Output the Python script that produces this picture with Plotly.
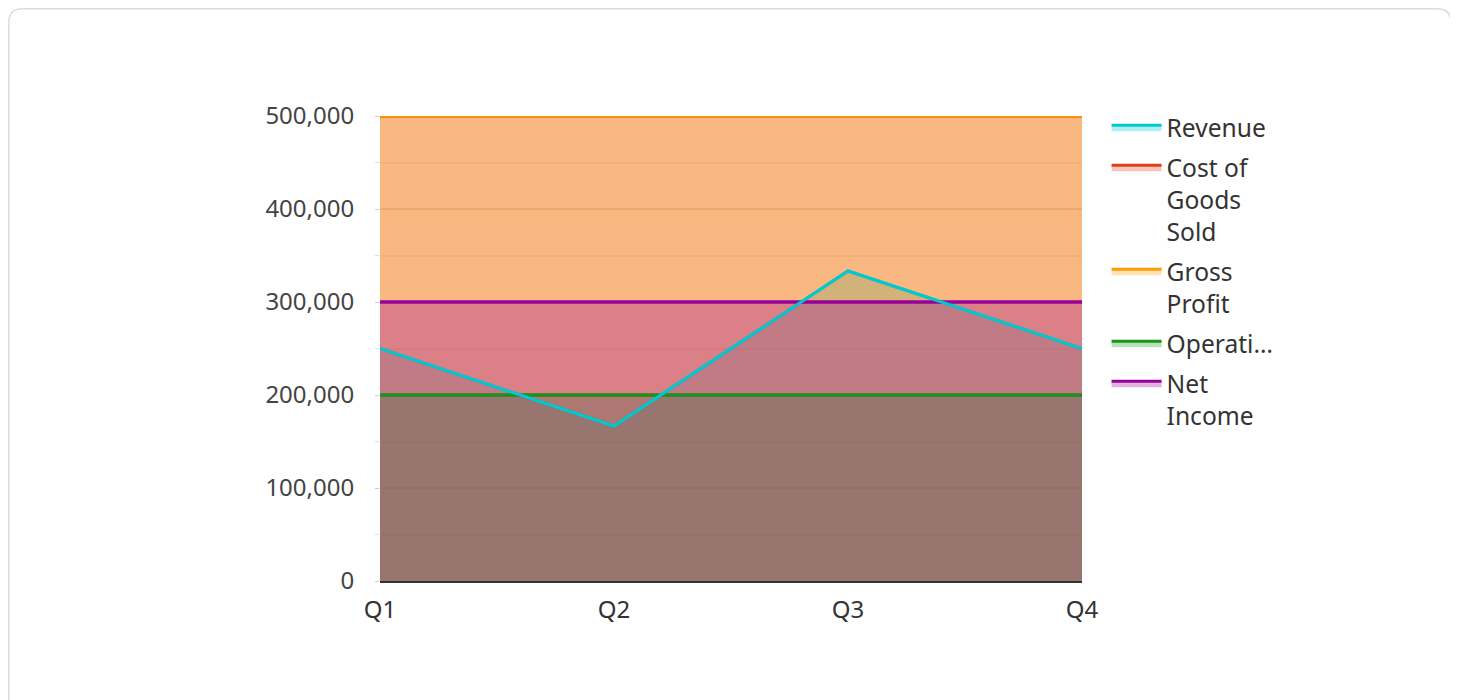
import plotly.graph_objects as go

quarters = ["Q1", "Q2", "Q3", "Q4"]
revenue = [250000, 166667, 333333, 250000]
cogs = [500000, 500000, 500000, 500000]
gross_profit = [500000, 500000, 500000, 500000]
operating_income = [200000, 200000, 200000, 200000]
net_income = [300000, 300000, 300000, 300000]

series = [
    ("Revenue", revenue, "#00c9d2", "rgba(0,201,210,0.3)"),
    ("Cost of<br>Goods<br>Sold", cogs, "#e2401c", "rgba(226,64,28,0.3)"),
    ("Gross<br>Profit", gross_profit, "#ff9a00", "rgba(255,154,0,0.3)"),
    ("Operati…", operating_income, "#189418", "rgba(24,148,24,0.3)"),
    ("Net<br>Income", net_income, "#990099", "rgba(153,0,153,0.3)"),
]

# page body has an 8px margin; figure placed accordingly
W, H = 1450, 692
L, T = 372, 108
R, B = W - 1074, H - 573
pw, ph = W - L - R, H - T - B

fig = go.Figure()
xs = list(range(len(quarters)))
for i, (name, vals, lc, fc) in enumerate(series):
    fig.add_trace(go.Scatter(
        x=xs, y=vals, name=name, mode="lines", legendgroup=f"g{i}",
        line=dict(color=lc, width=3), fill="tozeroy", fillcolor=fc,
    ))
# redraw lines on top of all fills (revenue last)
order = list(range(1, len(series))) + [0]
for i in order:
    name, vals, lc, fc = series[i]
    fig.add_trace(go.Scatter(
        x=xs, y=vals, name=name, mode="lines", showlegend=False,
        legendgroup=f"g{i}", line=dict(color=lc, width=3), hoverinfo="skip",
    ))

def px(x):
    return (x - L) / pw

def py(y):
    return (H - B - y) / ph

# rounded card border
x0, x1, y0, y1, r = 0.75, 1443, 0.75, 712, 14
path = (f"M {px(x0+r)},{py(y0)} L {px(x1-r)},{py(y0)} "
        f"Q {px(x1)},{py(y0)} {px(x1)},{py(y0+r)} L {px(x1)},{py(y1-r)} "
        f"Q {px(x1)},{py(y1)} {px(x1-r)},{py(y1)} L {px(x0+r)},{py(y1)} "
        f"Q {px(x0)},{py(y1)} {px(x0)},{py(y1-r)} L {px(x0)},{py(y0+r)} "
        f"Q {px(x0)},{py(y0)} {px(x0+r)},{py(y0)} Z")

fig.update_layout(
    width=W, height=H,
    margin=dict(l=L, r=R, t=T, b=B, autoexpand=False),
    paper_bgcolor="white", plot_bgcolor="white",
    font=dict(family="Noto Sans, Open Sans, sans-serif", size=24, color="#444"),
    showlegend=True,
    legend=dict(x=1.035, y=1.024, xanchor="left", yanchor="top",
                font=dict(size=24.6, color="#333"), tracegroupgap=5,
                itemwidth=50, valign="top"),
    shapes=[dict(type="path", xref="paper", yref="paper", path=path,
                 line=dict(color="#dcdcdc", width=1.5), fillcolor="rgba(0,0,0,0)",
                 layer="below")],
    xaxis=dict(
        tickmode="array", tickvals=xs, ticktext=quarters,
        range=[0, 3], showgrid=False, zeroline=False,
        showline=True, linecolor="#333", linewidth=2,
        ticks="", ticklabelstandoff=6, tickfont=dict(size=24, color="#333"),
    ),
    yaxis=dict(
        range=[0, 500000], dtick=100000, tickformat=",",
        showgrid=True, gridcolor="rgba(120,80,60,0.18)", gridwidth=1.5,
        zeroline=False, showline=False,
        ticks="outside", ticklen=4, tickcolor="#ccc", ticklabelstandoff=16,
        tickfont=dict(size=24, color="#444"),
        minor=dict(dtick=50000, showgrid=True, gridcolor="rgba(120,80,60,0.09)",
                   ticks="outside", ticklen=4, tickcolor="#ddd"),
    ),
)

fig.write_html("out.html")
